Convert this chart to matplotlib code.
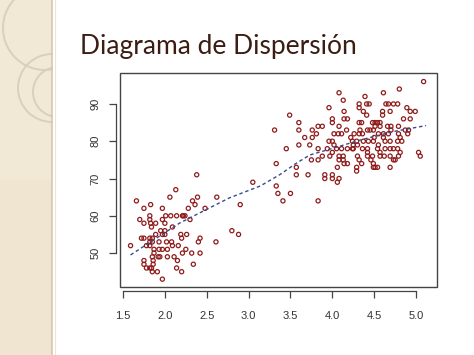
import numpy as np
import matplotlib.pyplot as plt
from matplotlib.patches import Rectangle, Circle

# eruption duration (min) and waiting time (min)
eruptions = [
    1.59, 1.66, 1.70, 1.75, 1.75, 1.83, 1.82, 1.82, 1.84, 1.89, 1.83, 1.97, 1.97, 2.01, 2.00,
    1.95, 2.00, 1.97, 2.00, 1.72, 1.75, 1.82, 1.85, 1.89, 1.82, 1.85, 1.78, 1.82, 1.93, 1.93,
    1.97, 1.87, 1.87, 1.85, 1.92, 1.94, 1.75, 1.75, 1.78, 1.82, 1.84, 1.86, 1.86, 1.85, 1.91,
    1.97, 2.02, 2.03, 2.08, 2.09, 2.03, 2.11, 2.09, 2.07, 2.14, 2.21, 2.22, 2.24, 2.06, 2.13,
    2.15, 2.14, 2.20, 2.19, 2.20, 2.16, 2.21, 2.25, 2.26, 2.28, 2.30, 2.32, 2.34, 2.33, 2.36,
    2.39, 2.38, 2.40, 2.42, 2.42, 2.48, 2.61, 2.62, 2.80, 2.88, 2.90, 3.05, 3.31, 3.33, 3.33,
    3.35,
    3.45, 3.41, 3.50, 3.49, 3.57, 3.57, 3.71, 3.60, 3.60, 3.60, 3.67, 3.73, 3.76, 3.76, 3.81,
    3.83, 3.88, 3.83, 3.88, 3.83, 3.75, 3.83, 3.91, 3.91, 4.00, 4.00, 4.08, 4.06, 4.06, 3.96,
    4.00, 4.00, 4.08, 4.13, 4.14, 4.14, 4.18, 4.08, 4.02, 4.07, 4.11, 3.96, 4.00, 4.02, 3.94,
    4.00, 3.97, 4.05, 4.11, 4.08, 4.13, 4.08, 4.13, 4.14, 4.18, 4.18, 4.24, 4.24, 4.29, 4.26,
    4.32, 4.17, 4.22, 4.32, 4.35, 4.32, 4.32, 4.37, 4.39, 4.41, 4.44, 4.41, 4.33, 4.36, 4.42,
    4.45, 4.25, 4.25, 4.30, 4.37, 4.43, 4.36, 4.42, 4.42, 4.30, 4.32, 4.29, 4.29, 4.35, 4.42,
    4.48, 4.46, 4.49, 4.51, 4.54, 4.49, 4.48, 4.51, 4.54, 4.57, 4.51, 4.57, 4.49, 4.55, 4.61,
    4.50, 4.49, 4.55, 4.54, 4.57, 4.57, 4.60, 4.60, 4.64, 4.61, 4.67, 4.73, 4.78, 4.69, 4.66,
    4.70, 4.61, 4.67, 4.70, 4.63, 4.69, 4.63, 4.69, 4.73, 4.78, 4.62, 4.69, 4.69, 4.80, 4.79,
    4.79, 4.81, 4.78, 4.83, 4.81, 4.79, 4.73, 4.75, 4.85, 4.93, 4.89, 4.93, 4.99, 4.87, 4.91,
    4.90, 5.03, 5.05, 5.09,
]
waiting = [
    52, 64, 59, 62, 58, 63, 60, 59, 57, 58, 58, 62, 59, 60, 58,
    56, 56, 55, 55, 54, 54, 54, 54, 55, 53, 53, 52, 52, 53, 51,
    51, 51, 50, 49, 49, 49, 48, 47, 46, 46, 46, 48, 47, 45, 45,
    43, 53, 51, 53, 52, 49, 49, 57, 60, 60, 60, 60, 60, 65, 67,
    48, 46, 45, 55, 54, 52, 50, 51, 55, 62, 59, 50, 47, 64, 63,
    65, 71, 53, 54, 50, 62, 53, 65, 56, 55, 63, 69, 83, 74, 68,
    66,
    78, 64, 66, 87, 73, 71, 71, 85, 83, 79, 81, 79, 83, 81, 82,
    84, 84, 78, 76, 75, 75, 64, 71, 70, 71, 70, 70, 69, 73, 89,
    86, 85, 93, 91, 88, 86, 86, 84, 82, 82, 82, 80, 80, 79, 78,
    77, 76, 78, 78, 76, 76, 75, 75, 74, 74, 78, 78, 80, 80, 82,
    82, 83, 81, 85, 85, 90, 89, 88, 92, 90, 90, 87, 83, 82, 83,
    83, 79, 78, 79, 80, 80, 78, 78, 77, 76, 75, 73, 72, 74, 76,
    76, 75, 74, 73, 73, 73, 85, 85, 85, 85, 84, 84, 83, 82, 81,
    81, 80, 79, 78, 77, 76, 88, 87, 90, 93, 90, 90, 90, 88, 84,
    84, 82, 82, 83, 80, 80, 78, 78, 78, 78, 76, 76, 73, 94, 84,
    82, 81, 80, 80, 77, 76, 75, 75, 86, 86, 89, 88, 88, 83, 83,
    82, 77, 76, 96,
]

# smooth (lowess-like) dashed curve
curve_x = [1.59, 2.18, 2.77, 3.14, 3.37, 3.57, 3.73, 4.05, 4.33, 4.73, 5.12]
curve_y = [49.5, 58.1, 64.8, 68.0, 71.0, 74.1, 76.3, 78.4, 80.3, 82.6, 84.2]

fig = plt.figure(figsize=(4.74, 3.55), dpi=100)
W, H = 474, 355

# slide decoration on the left
bg = fig.add_axes([0, 0, 1, 1])
bg.set_xlim(0, W)
bg.set_ylim(H, 0)
bg.axis('off')
bg.add_patch(Rectangle((0, 0), 52, H, facecolor='#efe5d1', edgecolor='none'))
bg.add_patch(Rectangle((0, 0), 52, 180, facecolor='#f3ebdb', edgecolor='none', alpha=0.6))
bg.plot([52, 52], [0, H], color='#d6c8ad', lw=1.2)
bg.plot([55, 55], [0, H], color='#ece4d4', lw=0.8)
for cx, cy, r in [(45, 28, 42), (52, 88, 34), (58, 92, 25)]:
    bg.add_patch(Circle((cx, cy), r, facecolor='none', edgecolor='#d9cfbb', lw=1.4, clip_on=True))
bg.add_patch(Rectangle((53, 0), W, H, facecolor='white', edgecolor='none'))

fig.text(80 / W, 1 - 54 / H, 'Diagrama de Dispersión', fontsize=19, family='Lato',
         color='#3b1d14', va='baseline', ha='left')

ax = fig.add_axes([120 / W, 1 - 287 / H, 317 / W, 214 / H])
ax.scatter(eruptions, waiting, s=9, facecolors='none', edgecolors='#8f1c1c', linewidths=0.9, zorder=3)
ax.plot(curve_x, curve_y, color='#3a4a8c', lw=1.0, ls=(0, (2.5, 2)), zorder=4)

ax.set_xlim(1.464, 5.25)
ax.set_ylim(40.9, 98.3)

for s in ['top', 'right']:
    ax.spines[s].set_visible(False)
ax.add_patch(Rectangle((0, 0), 1, 1, transform=ax.transAxes, facecolor='none',
                       edgecolor='#444444', lw=1.0, clip_on=False, zorder=5))
ax.spines['bottom'].set_position(('outward', 3))
ax.spines['left'].set_position(('outward', 3))
ax.spines['bottom'].set_bounds(1.5, 5.0)
ax.spines['left'].set_bounds(50, 90)
for s in ['bottom', 'left']:
    ax.spines[s].set_color('#444444')
    ax.spines[s].set_linewidth(0.9)

ax.set_xticks([1.5, 2.0, 2.5, 3.0, 3.5, 4.0, 4.5, 5.0])
ax.set_yticks([50, 60, 70, 80, 90])
ax.tick_params(direction='out', length=5, width=0.9, color='#444444', labelsize=8,
               labelcolor='#333333', pad=9)
ax.tick_params(axis='y', pad=6)
for lab in ax.get_yticklabels():
    lab.set_rotation(90)
    lab.set_va('center')
for lab in ax.get_xticklabels() + ax.get_yticklabels():
    lab.set_family('Liberation Sans')

fig.savefig('out.png', dpi=100)
